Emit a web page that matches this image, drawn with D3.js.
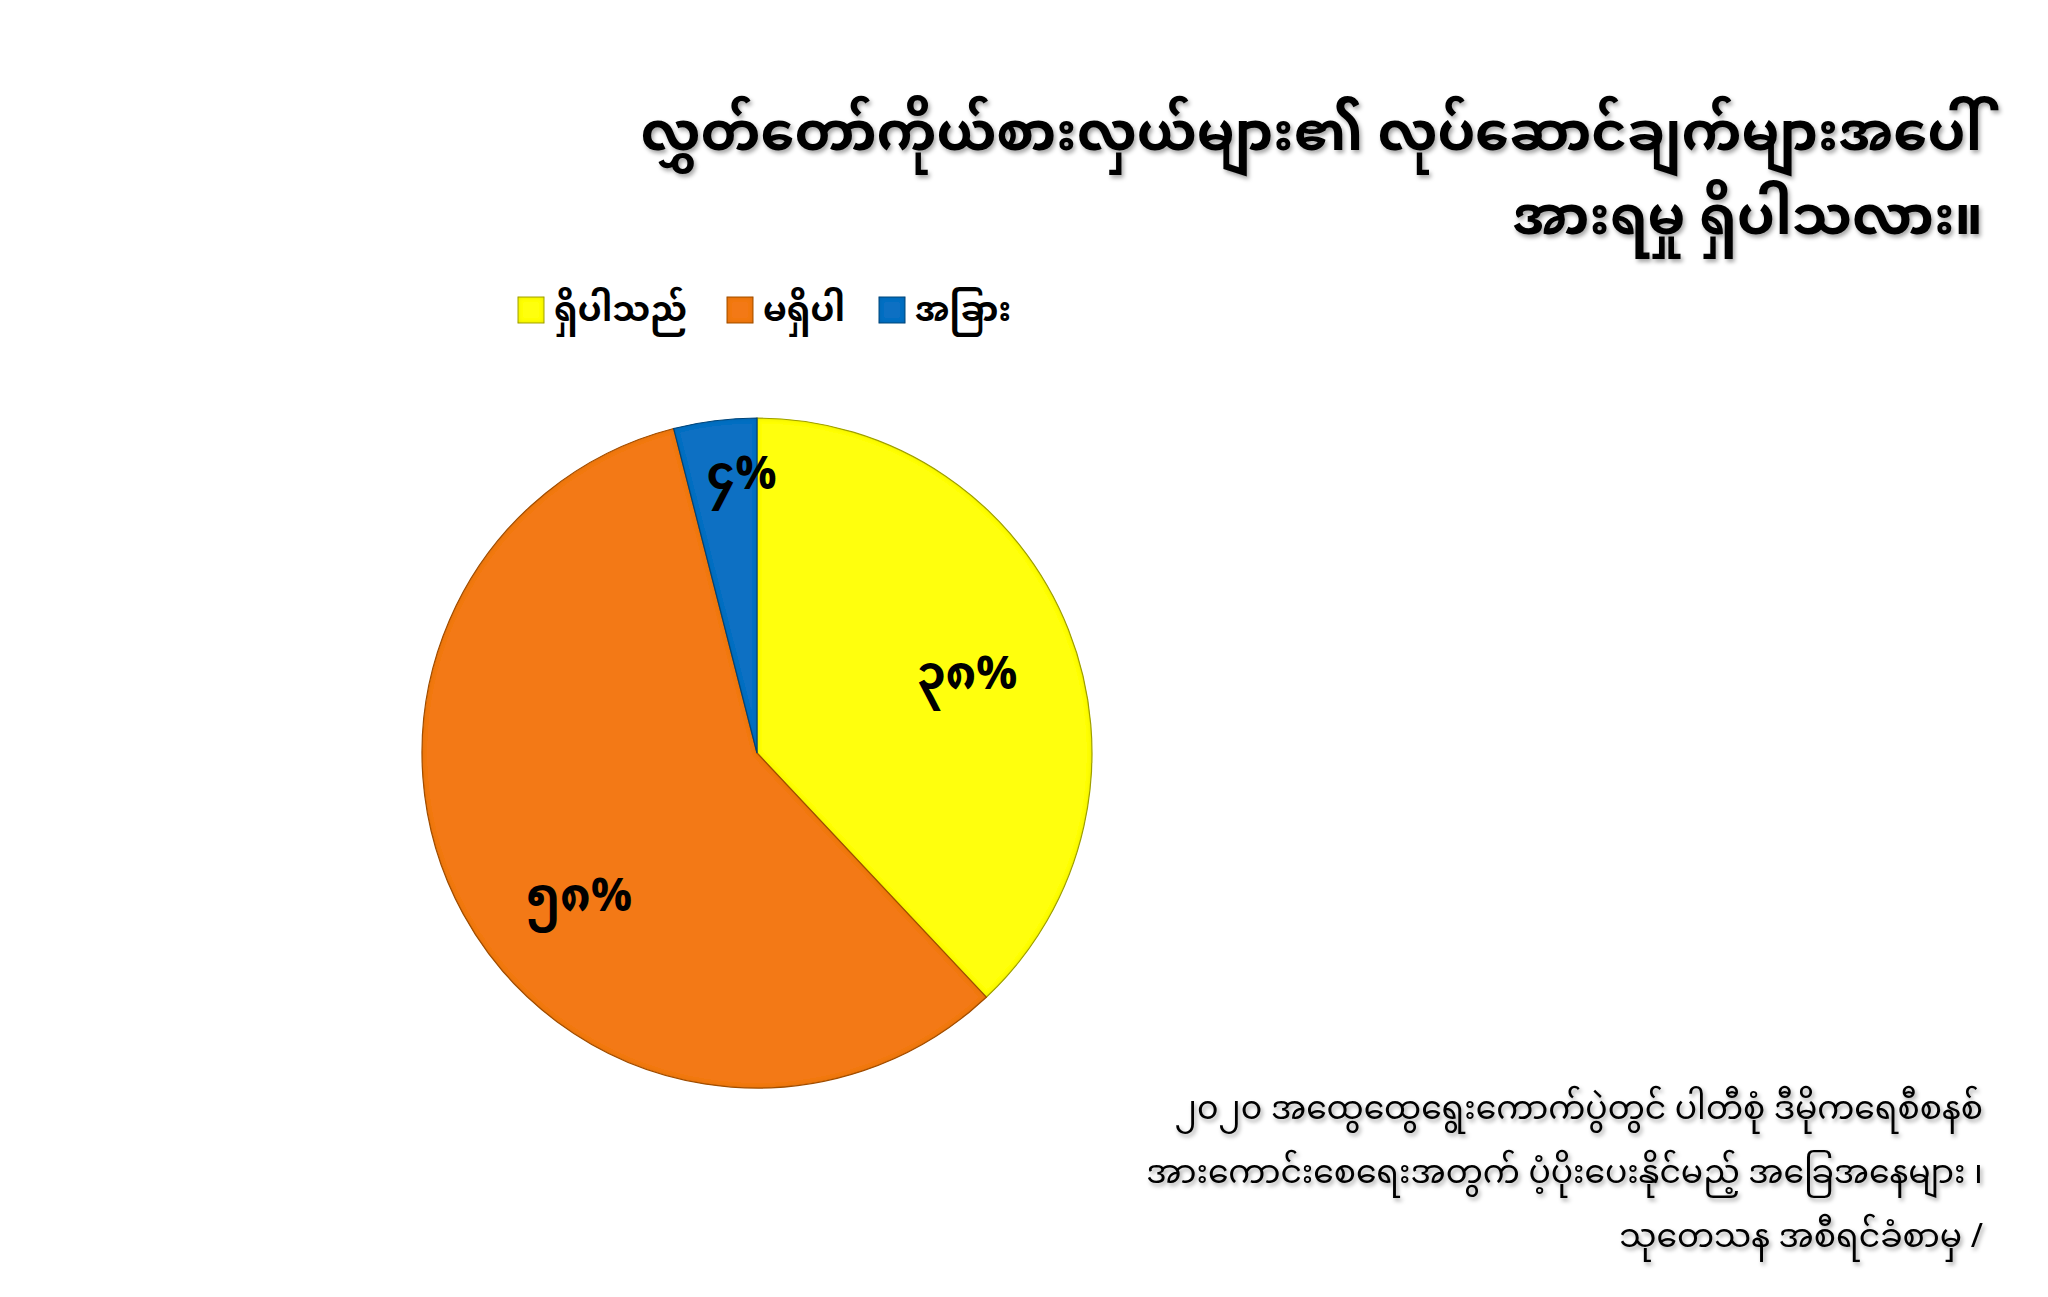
<!DOCTYPE html>
<html>
<head>
<meta charset="utf-8">
<script src="https://cdn.jsdelivr.net/npm/d3@7"></script>
<style>
  html, body { margin: 0; padding: 0; background: #fff; }
  svg { display: block; }
  text { font-family: "Noto Sans Myanmar", "Padauk", "Myanmar Text", "Myanmar3", "Noto Sans", sans-serif; }
</style>
</head>
<body>
<svg id="svg" width="2048" height="1297"></svg>
<script>
// chart data
var titleLines = ["လွှတ်တော်ကိုယ်စားလှယ်များ၏ လုပ်ဆောင်ချက်များအပေါ်", "အားရမှု ရှိပါသလား။"];
var categories = ["ရှိပါသည်", "မရှိပါ", "အခြား"];
var values = [38, 58, 4];
var colors = ["#ffff0a", "#f37914", "#0f70c3"];
var edgeColors = ["#a8a800", "#a9520a", "#0a4a80"];
var sourceLines = [
  "၂၀၂၀ အထွေထွေရွေးကောက်ပွဲတွင် ပါတီစုံ ဒီမိုကရေစီစနစ်",
  "အားကောင်းစေရေးအတွက် ပံ့ပိုးပေးနိုင်မည့် အခြေအနေများ ၊",
  "သုတေသန အစီရင်ခံစာမှ /"
];

var svg = d3.select("#svg");
var cx = 757, cy = 753, radius = 335;
var rightEdge = 1983;

// latin digits -> myanmar digits
var mmDigits = "၀၁၂၃၄၅၆၇၈၉";
var toMM = function(n) {
  return String(n).replace(/[0-9]/g, function(c) { return mmDigits[+c]; });
};

var defs = svg.append("defs");
var shadow = defs.append("filter").attr("id", "tshadow")
  .attr("x", "-10%").attr("y", "-20%").attr("width", "120%").attr("height", "150%");
shadow.append("feDropShadow").attr("dx", 2).attr("dy", 3).attr("stdDeviation", 2)
  .attr("flood-color", "#000").attr("flood-opacity", 0.35);

// soft dark band just inside every slice edge (bevel look)
var bevel = defs.append("filter").attr("id", "bevel")
  .attr("x", "-5%").attr("y", "-5%").attr("width", "110%").attr("height", "110%");
bevel.append("feGaussianBlur").attr("in", "SourceAlpha").attr("stdDeviation", 2.5).attr("result", "b");
bevel.append("feComposite").attr("in", "SourceAlpha").attr("in2", "b")
  .attr("operator", "arithmetic").attr("k2", 1).attr("k3", -1).attr("result", "edge");
bevel.append("feFlood").attr("flood-color", "#000").attr("flood-opacity", 0.3);
bevel.append("feComposite").attr("in2", "edge").attr("operator", "in").attr("result", "shade");
var merge = bevel.append("feMerge");
merge.append("feMergeNode").attr("in", "SourceGraphic");
merge.append("feMergeNode").attr("in", "shade");

//======================== title ========================
svg.append("g").selectAll("text").data(titleLines).enter().append("text")
  .attr("x", rightEdge)
  .attr("y", function(d, i) { return 150 + i * 84; })
  .attr("text-anchor", "end")
  .attr("font-size", 54)
  .attr("font-weight", "bold")
  .attr("filter", "url(#tshadow)")
  .text(function(d) { return d; });

//======================== legend ========================
var legend = svg.append("g").attr("class", "legend");
var legendX = [518, 727, 879];
var item = legend.selectAll("g").data(categories).enter().append("g")
  .attr("transform", function(d, i) { return "translate(" + legendX[i] + ",297)"; });
item.append("rect")
  .attr("width", 26).attr("height", 26)
  .attr("fill", function(d, i) { return colors[i]; })
  .attr("stroke", function(d, i) { return edgeColors[i]; })
  .attr("stroke-width", 1)
  .attr("filter", "url(#bevel)");
item.append("text")
  .attr("x", 36).attr("y", 24)
  .attr("font-size", 34)
  .attr("font-weight", "bold")
  .text(function(d) { return d; });

//======================== pie ========================
var pie = d3.pie().sort(null).value(function(d) { return d; });
var arc = d3.arc().innerRadius(0).outerRadius(radius);
var arcs = pie(values);

var g = svg.append("g").attr("transform", "translate(" + cx + "," + cy + ")");
g.selectAll("path.slice").data(arcs).enter().append("path")
  .attr("class", "slice")
  .attr("d", arc)
  .attr("fill", function(d, i) { return colors[i]; })
  .attr("stroke", function(d, i) { return edgeColors[i]; })
  .attr("stroke-width", 1.2)
  .attr("filter", "url(#bevel)");

// labels sit near the 0.7r centroid, nudged the way the original places them
var labelArc = d3.arc().innerRadius(radius * 0.7).outerRadius(radius * 0.7);
var labelNudge = [[-8, 6], [27, 29], [14, -47]];
g.selectAll("text.pct").data(arcs).enter().append("text")
  .attr("class", "pct")
  .attr("transform", function(d, i) {
    var c = labelArc.centroid(d);
    return "translate(" + (c[0] + labelNudge[i][0]) + "," + (c[1] + labelNudge[i][1]) + ")";
  })
  .attr("text-anchor", "middle")
  .attr("dy", "0.35em")
  .attr("font-size", 46)
  .attr("font-weight", "bold")
  .text(function(d) { return toMM(d.data) + "%"; });

//======================== source ========================
svg.append("g").selectAll("text").data(sourceLines).enter().append("text")
  .attr("x", rightEdge)
  .attr("y", function(d, i) { return 1119 + i * 64; })
  .attr("text-anchor", "end")
  .attr("font-size", 33)
  .attr("filter", "url(#tshadow)")
  .text(function(d) { return d; });
</script>
</body>
</html>
